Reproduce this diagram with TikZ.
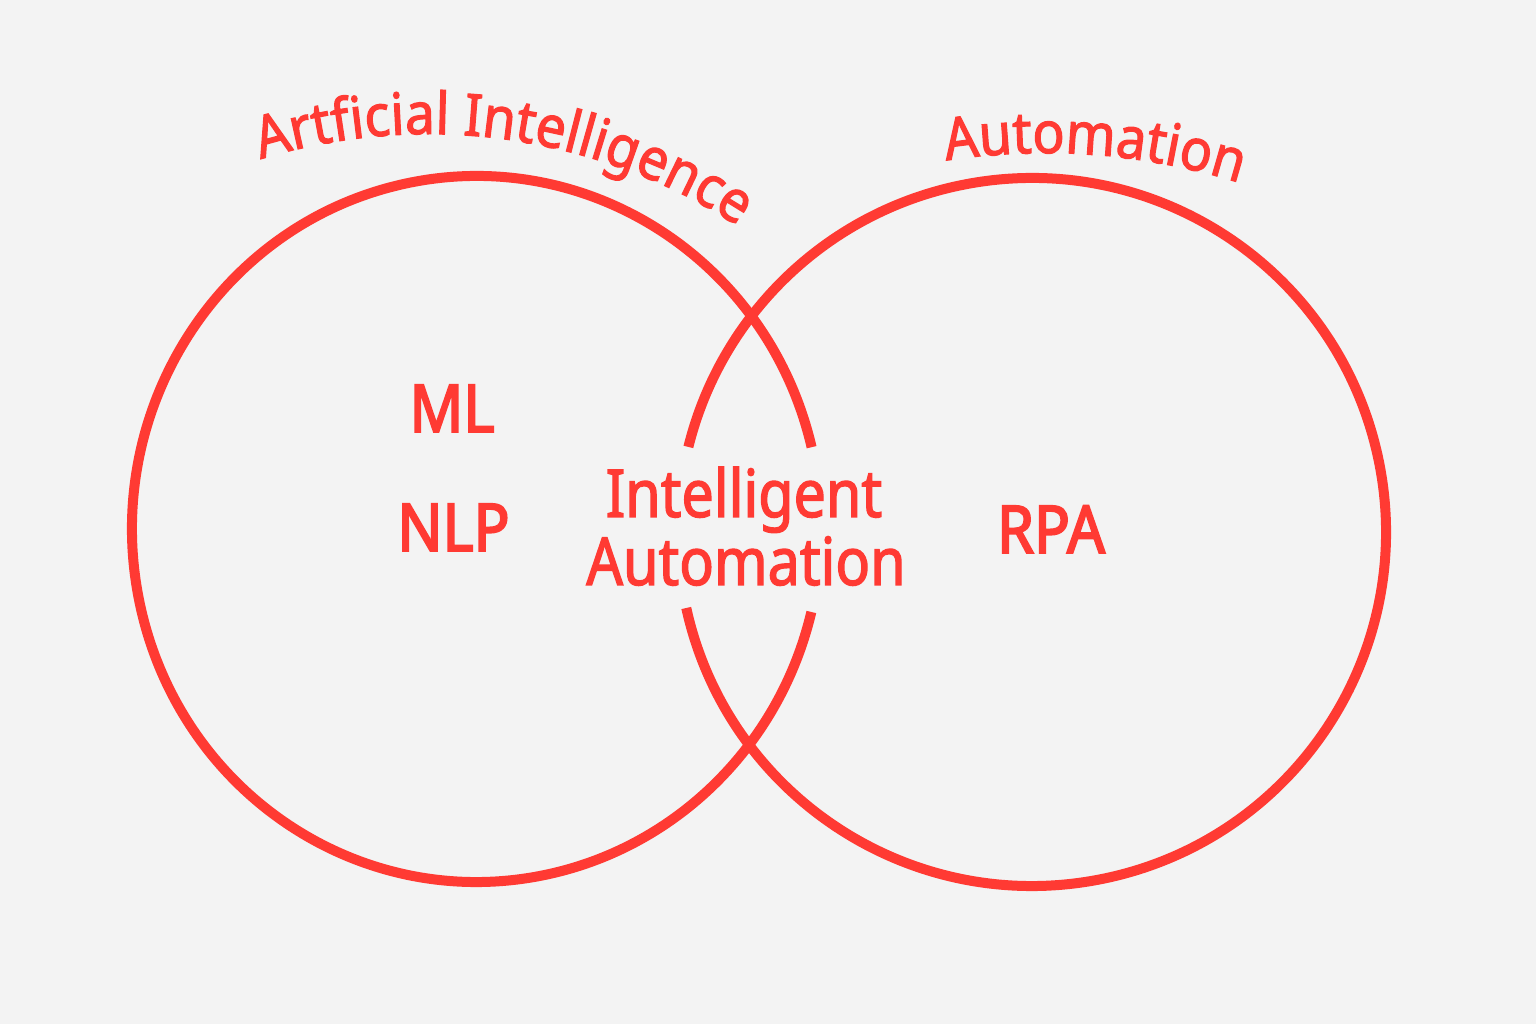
\documentclass[tikz,border=0pt]{standalone}
\usepackage{fontspec}
\setmainfont{Noto Sans}
\newfontfamily\centerfont[FakeStretch=0.87,FakeBold=2]{Noto Sans}
\newfontfamily\labelfont[FakeStretch=0.9,FakeBold=3]{Noto Sans}
\newfontfamily\arcfont[FakeStretch=0.92,FakeBold=2]{Noto Sans}
\usetikzlibrary{decorations.text}
\definecolor{ired}{HTML}{FF3A33}
\definecolor{bgc}{HTML}{F3F3F3}
\newcommand\arcfmt{\arcfont\fontsize{58}{58}\selectfont\color{ired}}
\begin{document}
\begin{tikzpicture}[x=1pt,y=1pt,
  ring/.style={draw=ired, line width=10pt},
  lbl/.style={text=ired, font=\labelfont\fontsize{66}{66}\selectfont, inner sep=0pt, anchor=base},
  ctr/.style={text=ired, font=\centerfont\fontsize{66}{66}\selectfont, inner sep=0pt, anchor=base}]
\fill[bgc] (0,0) rectangle (1536,1024);
\useasboundingbox (0,0) rectangle (1536,1024);
\coordinate (L) at (476.5,495);
\coordinate (R) at (1032,492);
\coordinate (LA) at (428,323);
\coordinate (RA) at (1045,221);
% circles with gaps around the centre label
\draw[ring] ([shift={(13.4:344.5pt and 353pt)}]L) arc[start angle=13.4,end angle=346.4,x radius=344.5pt,y radius=353pt];
\draw[ring] ([shift={(192.4:354pt and 354pt)}]R) arc[start angle=192.4,end angle=526.1,x radius=354pt,y radius=354pt];
% curved titles
\path[decorate,decoration={text along path,text align=center,text={|\arcfmt|Artficial Intelligence}}]
  ([shift={(108:567pt)}]LA) arc[start angle=108,end angle=56,radius=567pt];
\path[decorate,decoration={text along path,text align=center,text={|\arcfmt|Automation}}]
  ([shift={(98.6:650pt)}]RA) arc[start angle=98.6,end angle=72.7,radius=650pt];
% labels
\node[lbl] (ml) at (452,592) {ML};
\node[lbl] (nlp) at (453.5,473) {NLP};
\node[lbl] (rpa) at (1051,471) {RPA};
\node[ctr] (ia1) at (744,507) {Intelligent};
\node[ctr] (ia2) at (746,439) {Automation};
\end{tikzpicture}
\end{document}
